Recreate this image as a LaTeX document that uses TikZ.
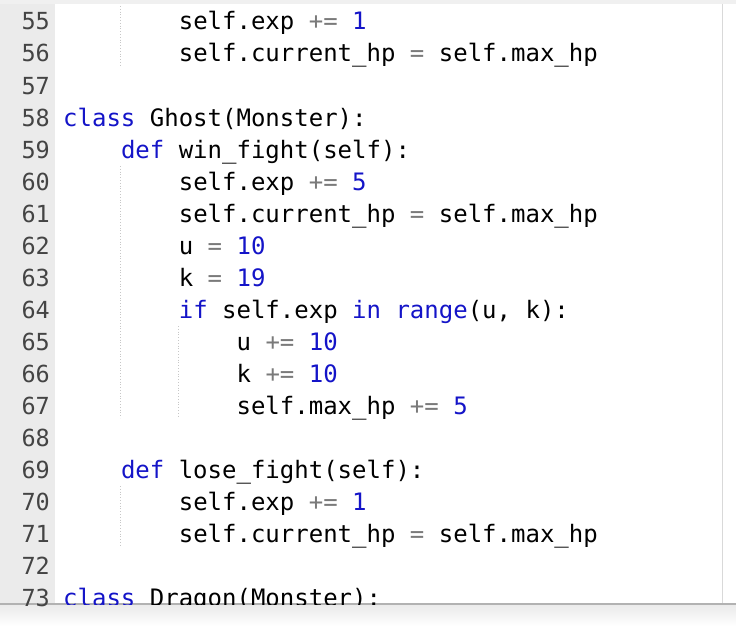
\documentclass[tikz,border=0pt]{standalone}
\usepackage{fontspec}
\setmonofont{DejaVu Sans Mono}
\definecolor{kwblue}{HTML}{1414C8}
\definecolor{opgrey}{HTML}{7A7A7A}
\definecolor{gutter}{HTML}{EBEBEB}
\definecolor{lnum}{HTML}{444444}
\newcommand{\kw}[1]{\textcolor{kwblue}{#1}}
\newcommand{\op}[1]{\textcolor{opgrey}{#1}}
\tikzset{
  codeline/.style={anchor=base west, inner sep=0pt, font=\ttfamily\fontsize{24}{28}\selectfont},
  lno/.style={anchor=base east, inner sep=0pt, text=lnum, font=\ttfamily\fontsize{23.5}{28}\selectfont},
  guide/.style={draw=black!22, dotted, line width=0.8pt}
}
\begin{document}
\begin{tikzpicture}[x=1pt,y=-1pt]
\useasboundingbox (0,0) rectangle (736,626);
\fill[white] (0,0) rectangle (736,626);
\fill[black!6] (0,0) rectangle (736,4);
\fill[gutter] (0,4) rectangle (55,604);
\draw[black!15] (722,4) -- (722,604);
\draw[black!30, line width=1.2pt] (0,604) -- (736,604);
\shade[top color=black!8, bottom color=white] (0,605) rectangle (736,626);
% guides
\draw[guide] (120,6) -- (120,66);
\draw[guide] (120,166) -- (120,418);
\draw[guide] (178,326) -- (178,418);
\draw[guide] (120,486) -- (120,546);
\foreach \n [count=\i from 0] in {55,...,73}{
  \node[lno] (n\n) at (50,{30+32*\i}) {\n};
}
\newcommand{\cl}[3]{\node[codeline] (c#1) at ({63+14.45*#2},{30+32*(#1-55)}) {#3};}
\cl{55}{8}{self.exp \op{+=} \kw{1}}
\cl{56}{8}{self.current\_hp \op{=} self.max\_hp}
\cl{58}{0}{\kw{class} Ghost(Monster):}
\cl{59}{4}{\kw{def} win\_fight(self):}
\cl{60}{8}{self.exp \op{+=} \kw{5}}
\cl{61}{8}{self.current\_hp \op{=} self.max\_hp}
\cl{62}{8}{u \op{=} \kw{10}}
\cl{63}{8}{k \op{=} \kw{19}}
\cl{64}{8}{\kw{if} self.exp \kw{in} \kw{range}(u, k):}
\cl{65}{12}{u \op{+=} \kw{10}}
\cl{66}{12}{k \op{+=} \kw{10}}
\cl{67}{12}{self.max\_hp \op{+=} \kw{5}}
\cl{69}{4}{\kw{def} lose\_fight(self):}
\cl{70}{8}{self.exp \op{+=} \kw{1}}
\cl{71}{8}{self.current\_hp \op{=} self.max\_hp}
\begin{scope}
\clip (0,0) rectangle (736,604);
\cl{73}{0}{\kw{class} Dragon(Monster):}
\end{scope}
\end{tikzpicture}
\end{document}
